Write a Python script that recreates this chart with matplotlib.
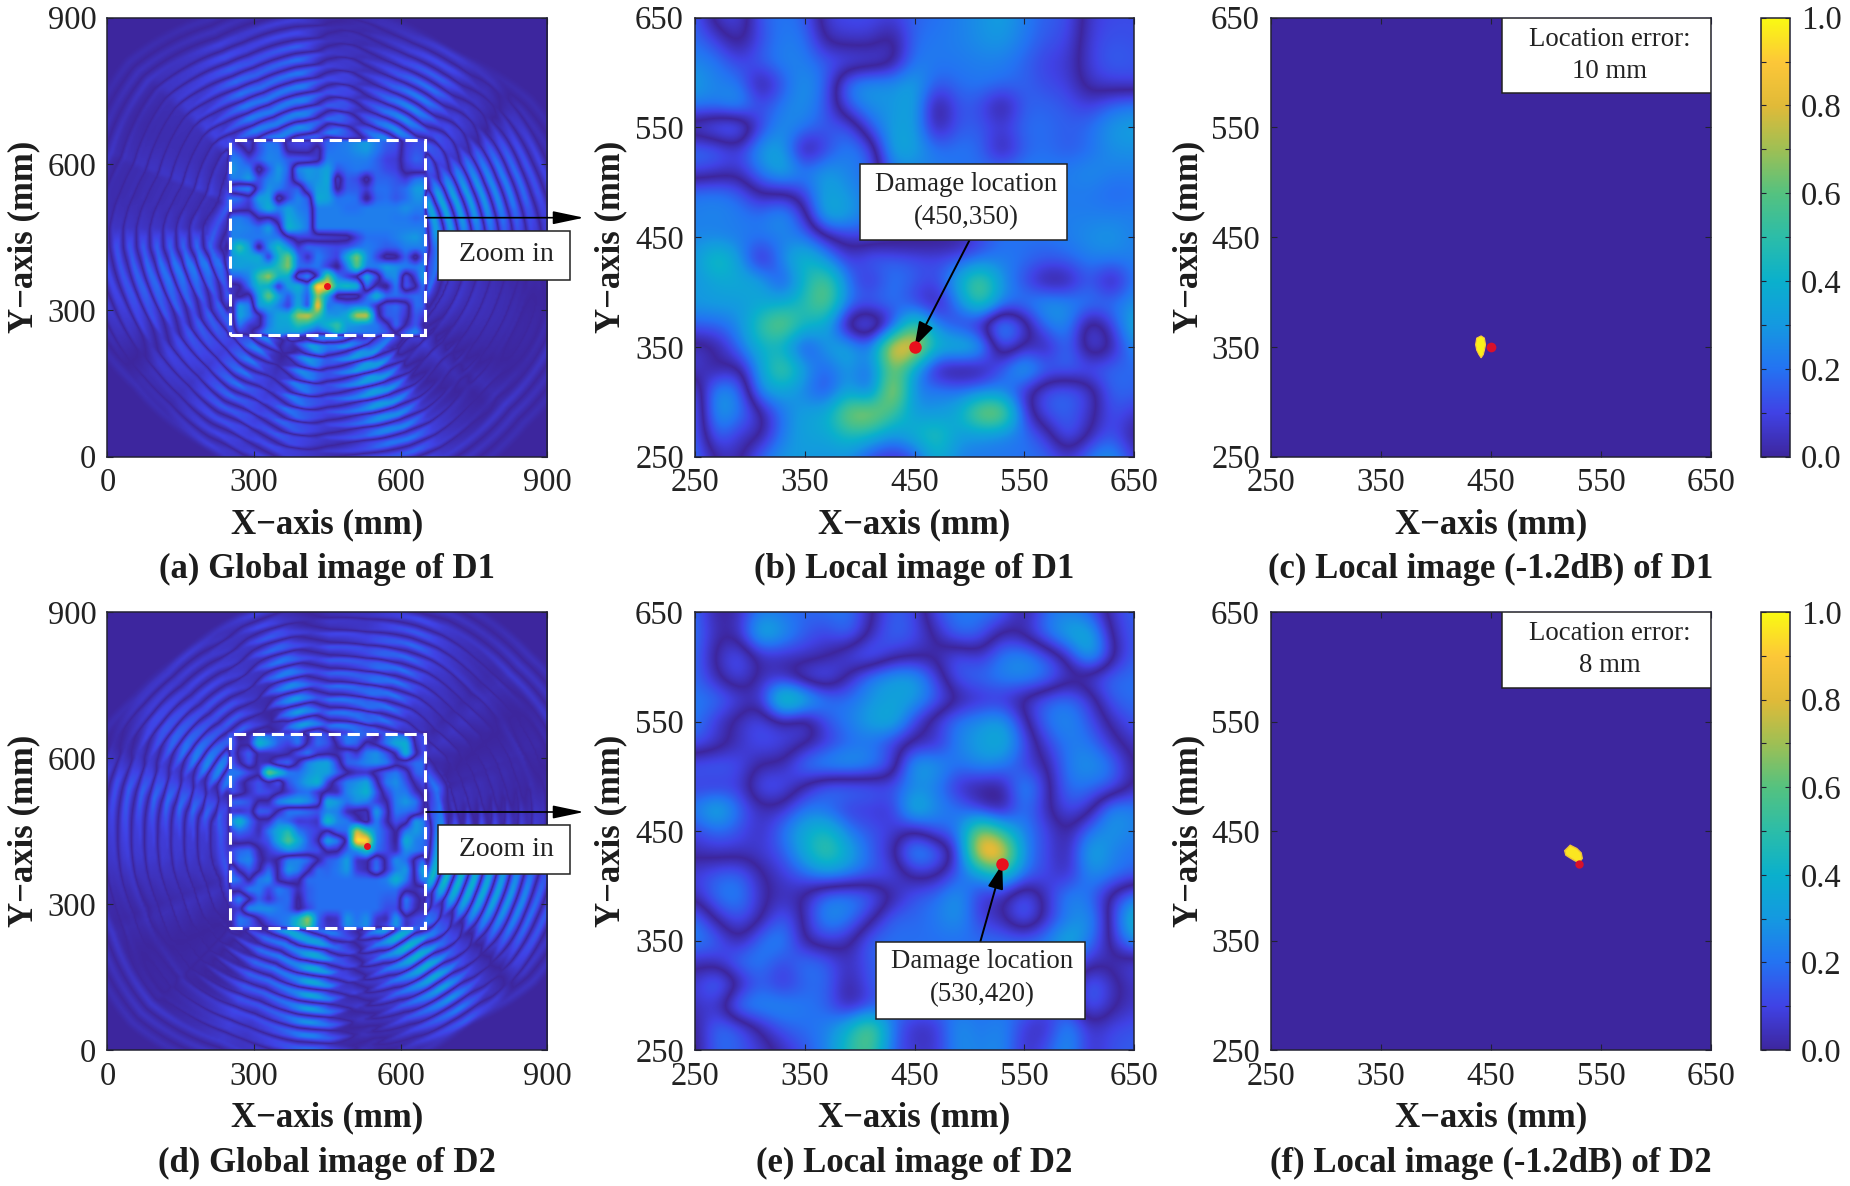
import numpy as np
import matplotlib
matplotlib.use("Agg")
import matplotlib.pyplot as plt
from matplotlib.colors import LinearSegmentedColormap, Normalize
from matplotlib.patches import Rectangle
from matplotlib.cm import ScalarMappable

plt.rcParams['font.family'] = ['Liberation Serif', 'DejaVu Serif']
plt.rcParams['axes.unicode_minus'] = True

# Signed amplitudes in percent (b) and (e) at 20 mm spacing.
# The sign only separates the regions divided by the dark contour lines; the colour shows |value|.
LOCAL_D1 = [
 [22,-10,-15,20,28,22,-12,-16,-16,-10,-22,-25,-30,-35,-40,-30,-20,-18,10,15,15],
 [25,12,-8,16,30,28,-5,-8,-8,8,-25,-28,-30,-35,-38,-28,-18,-15,12,18,16],
 [32,28,12,22,32,30,20,20,18,8,-30,-28,-28,-30,-30,-22,-12,-10,12,22,18],
 [40,30,30,-10,18,38,22,-32,-38,-35,-42,-18,-25,-28,-25,-22,-15,-12,8,12,14],
 [30,30,40,14,30,36,18,-22,-36,-35,-45,12,-20,-16,8,-22,-22,-18,-10,-25,-30],
 [-18,-30,-34,14,36,28,18,22,-20,-40,-42,5,-20,-20,-10,-25,-25,-20,-25,-38,-40],
 [28,25,10,40,42,-14,14,32,20,-45,-42,-25,-28,-25,6,-22,-25,-18,-24,-35,-35],
 [15,10,6,30,48,30,40,30,25,-30,-30,-30,-25,-25,-30,-30,-30,-30,-35,-30,-30],
 [-28,-30,-22,2,-3,12,45,35,28,-30,-30,-30,-30,-30,-30,-30,-30,-28,-28,-22,-25],
 [-30,-32,-30,-25,-40,-8,50,40,28,-30,-30,-30,-30,-30,-30,-30,-30,-30,-30,-30,-30],
 [-32,-30,-28,-28,-30,-28,-4,10,12,14,12,10,8,-10,-25,-25,-25,-30,-35,-38,-30],
 [-35,-60,-40,8,-35,-55,-35,-8,-25,-22,-18,-15,-18,-25,-30,-25,-20,-22,-30,-30,-30],
 [-35,-42,-45,-45,-8,-50,-70,-25,-3,-30,-20,-12,-45,-72,-35,-15,8,5,-22,10,-30],
 [-38,-40,-38,-42,-45,-55,-72,-25,-25,-28,-10,5,-30,-65,-30,-30,-40,-35,-30,-28,-35],
 [-20,-22,-32,-60,-75,-50,-45,20,35,-5,-70,-30,-10,5,45,15,-30,-35,18,-12,-48],
 [8,3,-25,-50,-45,-5,-40,-48,-25,-100,-90,-50,-55,-50,25,-6,6,-30,20,3,-35],
 [12,-5,8,-40,-70,-40,-18,-40,-18,-72,-40,8,12,10,-22,-50,-25,-25,-22,-25,-22],
 [-22,40,30,-38,-42,-30,-10,-45,-12,-90,-25,-32,-25,-30,-30,-4,20,25,12,-25,-22],
 [-28,42,30,6,-28,-42,-45,-75,-80,-60,-38,-35,-45,-78,-80,-10,20,22,8,-20,-8],
 [-25,28,8,5,-30,-42,-42,-55,-50,-35,-50,-60,-38,-35,-30,-28,-10,25,-2,-20,6],
 [-28,3,5,-25,-38,-38,-35,-35,-12,-4,-12,-50,-30,-28,-28,-25,-25,-8,-30,-40,-8],
]
LOCAL_D2 = [
 [25,-3,3,30,25,22,25,28,3,-22,-15,18,28,28,25,-6,25,30,20,-10,-22],
 [28,2,4,52,38,20,12,28,-3,-25,-18,3,28,22,-6,6,28,45,48,-5,-20],
 [26,-6,-22,4,5,8,3,-18,-30,-8,-4,-4,-20,-6,-30,-35,-18,4,50,5,-22],
 [25,2,-18,6,2,-20,-25,3,32,40,42,12,-22,-25,-32,-35,-30,-8,-15,-25,-25],
 [28,28,15,4,72,55,30,25,35,42,40,22,4,-5,-6,8,22,28,10,-22,-25],
 [30,8,-8,-18,-3,-18,18,30,42,50,12,-12,-30,-35,-42,-5,28,35,18,-5,-20],
 [20,10,-5,-18,-15,-4,8,22,25,8,-3,-3,-32,-40,-50,-18,12,30,28,6,-8],
 [-22,-25,-18,3,2,32,40,42,35,18,-45,-38,-25,-35,-30,-12,-2,30,38,28,-3],
 [-10,-5,-12,22,20,-4,-28,-30,-25,-18,-32,-30,-3,4,6,-40,-8,28,25,20,-3],
 [-30,-52,-25,-5,-6,-30,-22,-8,-10,-6,-55,-32,-28,-6,8,-30,-3,18,8,-38,-30],
 [-12,-25,-18,-3,-28,-45,-55,-28,-18,-12,3,-22,-25,-80,-55,-30,-15,3,-28,-38,-30],
 [-4,-8,-6,-10,-18,-45,-65,-45,-22,-3,42,30,-6,-100,-95,-30,-15,3,-48,-30,-25],
 [12,22,25,2,-10,-22,-35,-30,-20,-18,5,3,-22,-35,-55,-25,-15,-2,-35,-30,-22],
 [4,28,33,5,-6,3,30,32,25,3,-20,-25,-40,-6,-3,25,-5,-35,-25,8,30],
 [-28,4,20,3,-25,3,38,30,5,-25,-22,-28,-38,-10,-3,28,-5,-30,-38,8,55],
 [-32,-25,3,-28,-35,4,12,5,-25,-25,-25,-25,-25,-25,-25,-25,-30,-50,-30,5,40],
 [-6,-6,-30,-30,-12,-30,-22,-4,-20,-25,-25,-25,-25,-25,-25,-25,-25,-25,-5,-5,-15],
 [10,32,5,-22,-5,-22,-25,4,-20,-25,-25,-25,-25,-25,-25,-25,-20,-20,30,6,-8],
 [5,8,-35,-35,-35,-28,-22,4,-12,-25,-25,-25,-25,-25,-25,-25,-15,-15,25,3,-8],
 [-5,28,22,-2,-20,-25,-30,-50,-75,-25,-3,-6,-38,-25,-35,-8,-2,-38,-6,-15,-18],
 [-6,25,20,10,-4,-18,-30,-55,-65,-20,-8,-8,-35,-30,-35,-4,-18,-38,-4,-18,-20],
]
# Signed ring amplitudes outside the local window, radius step 13.5 mm starting at 175 mm.
RING_D1 = [.30,0,-.34,0,.32,0,-.30,0,.28,0,-.27,0,.26,0,-.23,0,.20,0,-.16,0,.12,0,-.08,0]
RING_D2 = [.28,0,-.30,0,.30,0,-.30,0,.30,0,-.28,0,.26,0,-.24,0,.21,0,-.18,0,.14,0,-.10,0]
# Ring strength per 11.25-degree sector, counter-clockwise from +x.
GAIN_D1 = [.9,.7,.95,.75,.85,.6,.7,.55,.75,.6,.85,.7,.85,.6,.8,.55,.7,.65,.9,.8,1.0,.85,1.05,.9,1.1,.85,1.2,.95,1.05,.8,.85,.8]
GAIN_D2 = [1.0,.8,1.05,.8,1.0,.75,.9,.7,.9,.7,.85,.65,.8,.7,.85,.65,.75,.7,.9,.75,.95,.85,1.0,.9,1.1,.85,1.15,1.0,1.2,1.0,1.15,.9]
# Ring distortion per 22.5-degree sector, in mm.
WARP_D1 = [0,6,-4,8,-6,10,-8,12,-10,5,14,-6,0,-8,12,4]
WARP_D2 = [2,-6,5,-4,8,-5,7,-8,4,9,-6,10,-3,8,-7,3]
# The ring pattern is the overlap of arcs around a few centres: (x, y, weight).
RING_SOURCES_D1 = [(450, 430, .62), (385, 470, .38), (525, 395, .34)]
RING_SOURCES_D2 = [(455, 445, .62), (530, 480, .36), (390, 395, .34)]
# Tone curve correcting my readings of the grids above against the colour bar.
TONE_IN = [0, .3, .5, .7, 1]
TONE_OUT = [0, .23, .42, .66, 1.05]

GLOBAL_TICKS = [0, 300, 600, 900]
LOCAL_TICKS = [250, 350, 450, 550, 650]
CBAR_TICKS = [0.0, 0.2, 0.4, 0.6, 0.8, 1.0]
CAPTIONS = ['(a) Global image of D1', '(b) Local image of D1', '(c) Local image (-1.2dB) of D1',
            '(d) Global image of D2', '(e) Local image of D2', '(f) Local image (-1.2dB) of D2']
DAMAGE = [(450, 350), (530, 420)]
ERRORS = ['10 mm', '8 mm']
# Thresholded blob outlines in panels (c) and (f), mm.
BLOB_C_X = [437, 441, 444, 445, 444, 443, 441, 439, 437, 436]
BLOB_C_Y = [358, 360, 358, 352, 347, 343, 340, 343, 347, 352]
BLOB_F_X = [517, 522, 528, 532, 533, 530, 526, 521, 518]
BLOB_F_Y = [432, 437, 434, 430, 425, 421, 423, 426, 428]

W, H = 1850, 1186
stops = [0, .1, .2, .3, .4, .5, .6, .7, .8, .9, 1]
cols = [(.24, .15, .62), (.25, .26, .90), (.14, .45, .95), (.08, .60, .88), (.04, .69, .80),
        (.17, .74, .66), (.33, .76, .50), (.62, .75, .33), (.88, .73, .22), (.99, .78, .22), (.98, .98, .07)]
parula = LinearSegmentedColormap.from_list('p', list(zip(stops, cols)), N=512)
mirror = LinearSegmentedColormap.from_list(
    'm', [((1 - s) / 2, c) for s, c in zip(stops[::-1], cols[::-1])] +
         [((1 + s) / 2, c) for s, c in zip(stops[1:], cols[1:])], N=1024)
snorm = Normalize(-1, 1)

fig = plt.figure(figsize=(W / 100, H / 100), dpi=100, facecolor='white')


def px_axes(l, r, t, b):
    return fig.add_axes([l / W, 1 - b / H, (r - l) / W, (b - t) / H])


def calibrate(g):
    g = np.asarray(g, float)
    return np.clip(np.sign(g) * np.interp(np.abs(g), TONE_IN, TONE_OUT), -1, 1)


def sample_local(grid, X, Y):
    g = calibrate(np.array(grid, float) / 100)
    fx = np.clip((X - 250) / 20, 0, 19.999)
    fy = np.clip((650 - Y) / 20, 0, 19.999)
    i, j = fx.astype(int), fy.astype(int)
    dx, dy = fx - i, fy - j
    return (g[j, i] * (1 - dx) * (1 - dy) + g[j, i + 1] * dx * (1 - dy) +
            g[j + 1, i] * (1 - dx) * dy + g[j + 1, i + 1] * dx * dy)


def compose_global(grid, ring, gain, warp, sources):
    xs = np.arange(0, 901, 4.0)
    X, Y = np.meshgrid(xs, xs)
    val = np.zeros_like(X)
    wdeg = np.arange(len(warp) + 1) * 360 / len(warp)
    gdeg = np.arange(len(gain) + 1) * 360 / len(gain)
    rr = 175 + np.arange(len(ring)) * 13.5
    for cx, cy, wt in sources:
        dx, dy = X - cx, Y - cy
        r = np.hypot(dx, dy)
        th = np.degrees(np.arctan2(dy, dx)) % 360
        rw = r + np.interp(th, wdeg, list(warp) + [warp[0]])
        val += wt * np.interp(rw, rr, ring, left=0.2, right=0) * np.interp(th, gdeg, list(gain) + [gain[0]])
    val *= 1.25
    inside = sample_local(grid, X, Y)
    d = np.minimum.reduce([X - 250, 650 - X, Y - 250, 650 - Y])
    w = np.clip(d / 8 + .5, 0, 1)
    return xs, inside * w + val * (1 - w)


def style(ax, ticks):
    ax.set_xticks(ticks)
    ax.set_yticks(ticks)
    ax.tick_params(direction='in', top=True, right=True, length=4, width=.8, color='#222233',
                   labelsize=23.5, pad=8, labelcolor='#222222')
    for s in ax.spines.values():
        s.set_linewidth(1.1)
        s.set_color('#222233')


rows = [(17.7, 456.6), (612, 1050)]
cols_px = [(107.4, 547.4), (695, 1134), (1271, 1711)]
ylab_x = [24, 611, 1189]
ov = fig.add_axes([0, 0, 1, 1], zorder=20)
ov.set_xlim(0, W)
ov.set_ylim(H, 0)
ov.axis('off')
ov.patch.set_alpha(0)

datasets = [(LOCAL_D1, RING_D1, GAIN_D1, WARP_D1, RING_SOURCES_D1), (LOCAL_D2, RING_D2, GAIN_D2, WARP_D2, RING_SOURCES_D2)]
for ri, (t, b) in enumerate(rows):
    grid, ring, gain, warp, sources = datasets[ri]
    dmg = DAMAGE[ri]
    # global
    ax = px_axes(*cols_px[0], t, b)
    xs, img = compose_global(grid, ring, gain, warp, sources)
    ax.imshow(img, origin='lower', extent=[-2, 902, -2, 902], cmap=mirror, norm=snorm,
              interpolation='bicubic', interpolation_stage='data', aspect='auto')
    ax.set_xlim(0, 900)
    ax.set_ylim(0, 900)
    style(ax, GLOBAL_TICKS)
    ax.add_patch(Rectangle((250, 250), 400, 400, fill=False, ec='white', lw=2.2, ls=(0, (4, 2.2))))
    ax.plot(*dmg, 'o', color='#e8101c', ms=5, mew=0)
    # local
    ax = px_axes(*cols_px[1], t, b)
    ax.imshow(calibrate(np.array(grid) / 100), origin='upper', extent=[240, 660, 240, 660], cmap=mirror, norm=snorm,
              interpolation='bicubic', interpolation_stage='data', aspect='auto')
    ax.set_xlim(250, 650)
    ax.set_ylim(250, 650)
    style(ax, LOCAL_TICKS)
    if ri == 0:
        bx, by, bw, bh, tx, ty1, ty2, start = 400, 447, 189, 70, 497, 498, 468, (500, 447)
    else:
        bx, by, bw, bh, tx, ty1, ty2, start = 415, 278, 190, 71, 512, 331, 301, (510, 349)
    ax.annotate('', xy=dmg, xytext=start, arrowprops=dict(arrowstyle='-|>,head_width=.28,head_length=.9',
                color='k', lw=1.4, mutation_scale=17, shrinkA=0, shrinkB=0), zorder=4)
    ax.add_patch(Rectangle((bx, by), bw, bh, fc='white', ec='#222222', lw=1.1, zorder=5))
    ax.text(tx, ty1, 'Damage location', ha='center', va='center', fontsize=19.4, color='#222222', zorder=6)
    ax.text(tx, ty2, '(%d,%d)' % dmg, ha='center', va='center', fontsize=19.4, color='#222222', zorder=6)
    ax.plot(*dmg, 'o', color='#e8101c', ms=9, mew=0, zorder=7)
    # thresholded
    ax = px_axes(*cols_px[2], t, b)
    ax.imshow(np.zeros((2, 2)), extent=[250, 650, 250, 650], cmap=parula, vmin=0, vmax=1, aspect='auto')
    ax.set_xlim(250, 650)
    ax.set_ylim(250, 650)
    style(ax, LOCAL_TICKS)
    if ri == 0:
        ax.fill(BLOB_C_X, BLOB_C_Y, fc=parula(.98), ec=parula(.9), lw=.8, zorder=3)
    else:
        ax.fill(BLOB_F_X, BLOB_F_Y, fc=parula(.96), ec=parula(.85), lw=1, zorder=3)
    ax.plot(*dmg, 'o', color='#d8102c', ms=7 if ri == 0 else 6, mew=0, zorder=4)
    ax.add_patch(Rectangle((460, 581), 190, 69, fc='white', ec='#222222', lw=1.1, zorder=5))
    ax.text(558, 630, 'Location error:', ha='center', va='center', fontsize=19.3, color='#222222', zorder=6)
    ax.text(558, 601, ERRORS[ri], ha='center', va='center', fontsize=19.3, color='#222222', zorder=6)
    # colorbar
    cax = px_axes(1761, 1790, t, b)
    cb = fig.colorbar(ScalarMappable(Normalize(0, 1), parula), cax=cax, ticks=CBAR_TICKS)
    cb.ax.set_yticks(np.arange(0, 1.01, .1), minor=True)
    cb.ax.tick_params(which='both', direction='in', left=True, right=True, length=3.5, width=.8,
                      labelsize=23.5, pad=8, color='#222233', labelcolor='#222222')
    cb.ax.set_yticklabels(['%.1f' % v for v in CBAR_TICKS])
    cb.outline.set_linewidth(1.1)
    cb.outline.set_color('#222233')
    # labels
    for ci in range(3):
        l, r = cols_px[ci]
        cx = (l + r) / 2
        ov.text(cx, b + 68, 'X\u2212axis (mm)', ha='center', va='center', fontsize=25,
                fontweight='bold', color='#1c1c1c')
        ov.text(cx, b + 113, CAPTIONS[ri * 3 + ci], ha='center', va='center', fontsize=25,
                fontweight='bold', color='#1c1c1c')
        ov.text(ylab_x[ci], (t + b) / 2, 'Y\u2212axis (mm)', rotation=90, ha='center', va='center',
                fontsize=25, fontweight='bold', color='#1c1c1c')
    # zoom-in callout
    ov.annotate('', xy=(584, t + 200), xytext=(426, t + 200),
                arrowprops=dict(arrowstyle='-|>,head_width=.2,head_length=.95', color='k', lw=1.2,
                                mutation_scale=20, shrinkA=0, shrinkB=0))
    ov.add_patch(Rectangle((438, t + 213), 132, 49, fc='white', ec='#222222', lw=1.1))
    ov.text(506, t + 237, 'Zoom in', ha='center', va='center', fontsize=20, color='#222222')

fig.savefig('out.png', dpi=100, facecolor='white')
